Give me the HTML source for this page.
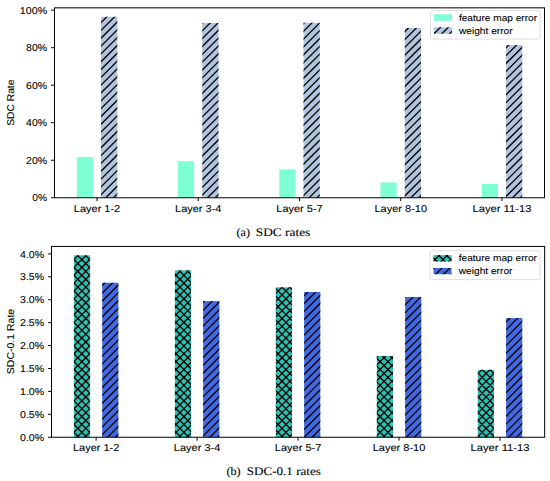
<!DOCTYPE html>
<html><head><meta charset="utf-8"><style>
html,body{margin:0;padding:0;background:#fff;}
body{width:550px;height:481px;overflow:hidden;}
svg{display:block;}
text{fill:#000;stroke:#000;stroke-width:0.09px;text-rendering:geometricPrecision;}
</style></head><body>
<svg width="550" height="481" viewBox="0 0 550 481">
<rect width="550" height="481" fill="#fff"/>
<rect x="76.77" y="157.05" width="16.20" height="40.70" fill="#7fffd4"/>
<rect x="101.07" y="16.84" width="16.20" height="180.91" fill="#b0c4de"/>
<clipPath id="c1"><rect x="101.07" y="16.84" width="16.20" height="180.91"/></clipPath>
<path clip-path="url(#c1)" d="M99.07,8.88L119.27,-11.32M99.07,16.70L119.27,-3.49M99.07,24.53L119.27,4.33M99.07,32.35L119.27,12.15M99.07,40.17L119.27,19.97M99.07,47.99L119.27,27.80M99.07,55.82L119.27,35.62M99.07,63.64L119.27,43.44M99.07,71.46L119.27,51.26M99.07,79.28L119.27,59.09M99.07,87.11L119.27,66.91M99.07,94.93L119.27,74.73M99.07,102.75L119.27,82.55M99.07,110.57L119.27,90.38M99.07,118.40L119.27,98.20M99.07,126.22L119.27,106.02M99.07,134.04L119.27,113.84M99.07,141.86L119.27,121.67M99.07,149.69L119.27,129.49M99.07,157.51L119.27,137.31M99.07,165.33L119.27,145.13M99.07,173.15L119.27,152.96M99.07,180.98L119.27,160.78M99.07,188.80L119.27,168.60M99.07,196.62L119.27,176.42M99.07,204.44L119.27,184.25M99.07,212.27L119.27,192.07M99.07,220.09L119.27,199.89M99.07,227.91L119.27,207.71" stroke="#000" stroke-width="1.3" fill="none"/>
<rect x="178.01" y="161.18" width="16.20" height="36.57" fill="#7fffd4"/>
<rect x="202.31" y="22.95" width="16.20" height="174.80" fill="#b0c4de"/>
<clipPath id="c2"><rect x="202.31" y="22.95" width="16.20" height="174.80"/></clipPath>
<path clip-path="url(#c2)" d="M200.31,9.34L220.51,-10.86M200.31,17.16L220.51,-3.04M200.31,24.98L220.51,4.78M200.31,32.80L220.51,12.60M200.31,40.63L220.51,20.43M200.31,48.45L220.51,28.25M200.31,56.27L220.51,36.07M200.31,64.09L220.51,43.89M200.31,71.92L220.51,51.72M200.31,79.74L220.51,59.54M200.31,87.56L220.51,67.36M200.31,95.38L220.51,75.18M200.31,103.21L220.51,83.01M200.31,111.03L220.51,90.83M200.31,118.85L220.51,98.65M200.31,126.67L220.51,106.47M200.31,134.50L220.51,114.30M200.31,142.32L220.51,122.12M200.31,150.14L220.51,129.94M200.31,157.96L220.51,137.76M200.31,165.79L220.51,145.59M200.31,173.61L220.51,153.41M200.31,181.43L220.51,161.23M200.31,189.25L220.51,169.05M200.31,197.08L220.51,176.88M200.31,204.90L220.51,184.70M200.31,212.72L220.51,192.52M200.31,220.54L220.51,200.34M200.31,228.37L220.51,208.17" stroke="#000" stroke-width="1.3" fill="none"/>
<rect x="279.25" y="169.43" width="16.20" height="28.32" fill="#7fffd4"/>
<rect x="303.55" y="22.77" width="16.20" height="174.98" fill="#b0c4de"/>
<clipPath id="c3"><rect x="303.55" y="22.77" width="16.20" height="174.98"/></clipPath>
<path clip-path="url(#c3)" d="M301.55,9.79L321.75,-10.41M301.55,17.61L321.75,-2.59M301.55,25.43L321.75,5.23M301.55,33.26L321.75,13.06M301.55,41.08L321.75,20.88M301.55,48.90L321.75,28.70M301.55,56.72L321.75,36.52M301.55,64.55L321.75,44.35M301.55,72.37L321.75,52.17M301.55,80.19L321.75,59.99M301.55,88.01L321.75,67.81M301.55,95.84L321.75,75.64M301.55,103.66L321.75,83.46M301.55,111.48L321.75,91.28M301.55,119.30L321.75,99.10M301.55,127.13L321.75,106.93M301.55,134.95L321.75,114.75M301.55,142.77L321.75,122.57M301.55,150.59L321.75,130.39M301.55,158.42L321.75,138.22M301.55,166.24L321.75,146.04M301.55,174.06L321.75,153.86M301.55,181.88L321.75,161.68M301.55,189.71L321.75,169.51M301.55,197.53L321.75,177.33M301.55,205.35L321.75,185.15M301.55,213.17L321.75,192.97M301.55,221.00L321.75,200.80M301.55,228.82L321.75,208.62" stroke="#000" stroke-width="1.3" fill="none"/>
<rect x="380.49" y="182.46" width="16.20" height="15.29" fill="#7fffd4"/>
<rect x="404.79" y="28.02" width="16.20" height="169.73" fill="#b0c4de"/>
<clipPath id="c4"><rect x="404.79" y="28.02" width="16.20" height="169.73"/></clipPath>
<path clip-path="url(#c4)" d="M402.79,18.06L422.99,-2.14M402.79,25.89L422.99,5.69M402.79,33.71L422.99,13.51M402.79,41.53L422.99,21.33M402.79,49.35L422.99,29.15M402.79,57.18L422.99,36.98M402.79,65.00L422.99,44.80M402.79,72.82L422.99,52.62M402.79,80.64L422.99,60.44M402.79,88.47L422.99,68.27M402.79,96.29L422.99,76.09M402.79,104.11L422.99,83.91M402.79,111.93L422.99,91.73M402.79,119.76L422.99,99.56M402.79,127.58L422.99,107.38M402.79,135.40L422.99,115.20M402.79,143.22L422.99,123.02M402.79,151.05L422.99,130.85M402.79,158.87L422.99,138.67M402.79,166.69L422.99,146.49M402.79,174.51L422.99,154.31M402.79,182.34L422.99,162.14M402.79,190.16L422.99,169.96M402.79,197.98L422.99,177.78M402.79,205.80L422.99,185.60M402.79,213.63L422.99,193.43M402.79,221.45L422.99,201.25M402.79,229.27L422.99,209.07" stroke="#000" stroke-width="1.3" fill="none"/>
<rect x="481.73" y="183.97" width="16.20" height="13.78" fill="#7fffd4"/>
<rect x="506.03" y="45.08" width="16.20" height="152.67" fill="#b0c4de"/>
<clipPath id="c5"><rect x="506.03" y="45.08" width="16.20" height="152.67"/></clipPath>
<path clip-path="url(#c5)" d="M504.03,34.16L524.23,13.96M504.03,41.98L524.23,21.79M504.03,49.81L524.23,29.61M504.03,57.63L524.23,37.43M504.03,65.45L524.23,45.25M504.03,73.27L524.23,53.08M504.03,81.10L524.23,60.90M504.03,88.92L524.23,68.72M504.03,96.74L524.23,76.54M504.03,104.56L524.23,84.37M504.03,112.39L524.23,92.19M504.03,120.21L524.23,100.01M504.03,128.03L524.23,107.83M504.03,135.85L524.23,115.66M504.03,143.68L524.23,123.48M504.03,151.50L524.23,131.30M504.03,159.32L524.23,139.12M504.03,167.14L524.23,146.95M504.03,174.97L524.23,154.77M504.03,182.79L524.23,162.59M504.03,190.61L524.23,170.41M504.03,198.43L524.23,178.24M504.03,206.26L524.23,186.06M504.03,214.08L524.23,193.88M504.03,221.90L524.23,201.70M504.03,229.72L524.23,209.53" stroke="#000" stroke-width="1.3" fill="none"/>
<rect x="54.5" y="7.85" width="490.0" height="189.9" fill="none" stroke="#000" stroke-width="1.0"/>
<line x1="51.10" y1="197.75" x2="54.5" y2="197.75" stroke="#000" stroke-width="1.0"/>
<text x="47.10" y="201.35" font-family="Liberation Sans" font-size="10.0" text-anchor="end" textLength="14.75" lengthAdjust="spacingAndGlyphs">0%</text>
<line x1="51.10" y1="160.24" x2="54.5" y2="160.24" stroke="#000" stroke-width="1.0"/>
<text x="47.10" y="163.84" font-family="Liberation Sans" font-size="10.0" text-anchor="end" textLength="20.98" lengthAdjust="spacingAndGlyphs">20%</text>
<line x1="51.10" y1="122.73" x2="54.5" y2="122.73" stroke="#000" stroke-width="1.0"/>
<text x="47.10" y="126.33" font-family="Liberation Sans" font-size="10.0" text-anchor="end" textLength="20.98" lengthAdjust="spacingAndGlyphs">40%</text>
<line x1="51.10" y1="85.22" x2="54.5" y2="85.22" stroke="#000" stroke-width="1.0"/>
<text x="47.10" y="88.82" font-family="Liberation Sans" font-size="10.0" text-anchor="end" textLength="20.98" lengthAdjust="spacingAndGlyphs">60%</text>
<line x1="51.10" y1="47.71" x2="54.5" y2="47.71" stroke="#000" stroke-width="1.0"/>
<text x="47.10" y="51.31" font-family="Liberation Sans" font-size="10.0" text-anchor="end" textLength="20.98" lengthAdjust="spacingAndGlyphs">80%</text>
<line x1="51.10" y1="10.20" x2="54.5" y2="10.20" stroke="#000" stroke-width="1.0"/>
<text x="47.10" y="13.80" font-family="Liberation Sans" font-size="10.0" text-anchor="end" textLength="27.22" lengthAdjust="spacingAndGlyphs">100%</text>
<line x1="97.02" y1="197.75" x2="97.02" y2="201.15" stroke="#000" stroke-width="1.0"/>
<text x="97.02" y="212.00" font-family="Liberation Sans" font-size="10.0" text-anchor="middle" textLength="46.44" lengthAdjust="spacingAndGlyphs">Layer 1-2</text>
<line x1="198.26" y1="197.75" x2="198.26" y2="201.15" stroke="#000" stroke-width="1.0"/>
<text x="198.26" y="212.00" font-family="Liberation Sans" font-size="10.0" text-anchor="middle" textLength="46.44" lengthAdjust="spacingAndGlyphs">Layer 3-4</text>
<line x1="299.50" y1="197.75" x2="299.50" y2="201.15" stroke="#000" stroke-width="1.0"/>
<text x="299.50" y="212.00" font-family="Liberation Sans" font-size="10.0" text-anchor="middle" textLength="46.44" lengthAdjust="spacingAndGlyphs">Layer 5-7</text>
<line x1="400.74" y1="197.75" x2="400.74" y2="201.15" stroke="#000" stroke-width="1.0"/>
<text x="400.74" y="212.00" font-family="Liberation Sans" font-size="10.0" text-anchor="middle" textLength="52.68" lengthAdjust="spacingAndGlyphs">Layer 8-10</text>
<line x1="501.98" y1="197.75" x2="501.98" y2="201.15" stroke="#000" stroke-width="1.0"/>
<text x="501.98" y="212.00" font-family="Liberation Sans" font-size="10.0" text-anchor="middle" textLength="58.92" lengthAdjust="spacingAndGlyphs">Layer 11-13</text>
<text x="14.00" y="102.70" font-family="Liberation Sans" font-size="10.0" text-anchor="middle" textLength="46.20" lengthAdjust="spacingAndGlyphs" transform="rotate(-90 14.00 102.70)">SDC Rate</text>
<rect x="430.5" y="10.65" width="109.6" height="28.45" rx="1.8" fill="#fff" fill-opacity="0.8" stroke="#dedede" stroke-width="1.0"/>
<rect x="433.90" y="14.30" width="18.10" height="6.50" fill="#7fffd4"/>
<rect x="433.90" y="27.30" width="18.10" height="6.50" fill="#b0c4de"/>
<clipPath id="c6"><rect x="433.90" y="27.30" width="18.10" height="6.50"/></clipPath>
<path clip-path="url(#c6)" d="M431.90,20.24L454.00,-1.86M431.90,28.06L454.00,5.96M431.90,35.89L454.00,13.79M431.90,43.71L454.00,21.61M431.90,51.53L454.00,29.43M431.90,59.36L454.00,37.25M431.90,67.18L454.00,45.08" stroke="#000" stroke-width="1.3" fill="none"/>
<text x="458.90" y="20.80" font-family="Liberation Sans" font-size="9.25" text-anchor="start" textLength="78.22" lengthAdjust="spacingAndGlyphs">feature map error</text>
<text x="458.90" y="33.70" font-family="Liberation Sans" font-size="9.25" text-anchor="start" textLength="53.77" lengthAdjust="spacingAndGlyphs">weight error</text>
<text x="236.6" y="235.5" font-family="Liberation Serif" font-size="11.5" textLength="13.4" lengthAdjust="spacingAndGlyphs">(a)</text>
<text x="255.8" y="235.5" font-family="Liberation Serif" font-size="11.5" textLength="54.5" lengthAdjust="spacingAndGlyphs">SDC rates</text>
<rect x="73.92" y="255.28" width="16.16" height="181.97" fill="#2bc2b2"/>
<clipPath id="c7"><rect x="73.92" y="255.28" width="16.16" height="181.97"/></clipPath>
<path clip-path="url(#c7)" d="M71.92,245.97L92.07,225.82M71.92,253.82L92.07,233.67M71.92,261.67L92.07,241.52M71.92,269.52L92.07,249.37M71.92,277.37L92.07,257.22M71.92,285.22L92.07,265.07M71.92,293.07L92.07,272.92M71.92,300.92L92.07,280.77M71.92,308.77L92.07,288.62M71.92,316.62L92.07,296.47M71.92,324.47L92.07,304.32M71.92,332.32L92.07,312.17M71.92,340.17L92.07,320.02M71.92,348.02L92.07,327.87M71.92,355.87L92.07,335.72M71.92,363.72L92.07,343.57M71.92,371.57L92.07,351.42M71.92,379.42L92.07,359.27M71.92,387.27L92.07,367.12M71.92,395.12L92.07,374.97M71.92,402.97L92.07,382.82M71.92,410.82L92.07,390.67M71.92,418.67L92.07,398.52M71.92,426.52L92.07,406.37M71.92,434.37L92.07,414.22M71.92,442.22L92.07,422.07M71.92,450.07L92.07,429.92M71.92,457.92L92.07,437.77M71.92,465.77L92.07,445.62M71.92,445.95L92.07,466.10M71.92,438.10L92.07,458.25M71.92,430.25L92.07,450.40M71.92,422.40L92.07,442.55M71.92,414.55L92.07,434.70M71.92,406.70L92.07,426.85M71.92,398.85L92.07,419.00M71.92,391.00L92.07,411.15M71.92,383.15L92.07,403.30M71.92,375.30L92.07,395.45M71.92,367.45L92.07,387.60M71.92,359.60L92.07,379.75M71.92,351.75L92.07,371.90M71.92,343.90L92.07,364.05M71.92,336.05L92.07,356.20M71.92,328.20L92.07,348.35M71.92,320.35L92.07,340.50M71.92,312.50L92.07,332.65M71.92,304.65L92.07,324.80M71.92,296.80L92.07,316.95M71.92,288.95L92.07,309.10M71.92,281.10L92.07,301.25M71.92,273.25L92.07,293.40M71.92,265.40L92.07,285.55M71.92,257.55L92.07,277.70M71.92,249.70L92.07,269.85M71.92,241.85L92.07,262.00M71.92,234.00L92.07,254.15M71.92,226.15L92.07,246.30" stroke="#000" stroke-width="1.3" fill="none"/>
<rect x="102.19" y="282.78" width="16.16" height="154.47" fill="#4169e1"/>
<clipPath id="c8"><rect x="102.19" y="282.78" width="16.16" height="154.47"/></clipPath>
<path clip-path="url(#c8)" d="M100.19,271.60L120.34,251.44M100.19,279.46L120.34,259.31M100.19,287.33L120.34,267.17M100.19,295.19L120.34,275.04M100.19,303.06L120.34,282.90M100.19,310.92L120.34,290.77M100.19,318.79L120.34,298.63M100.19,326.65L120.34,306.50M100.19,334.52L120.34,314.36M100.19,342.38L120.34,322.23M100.19,350.25L120.34,330.09M100.19,358.11L120.34,337.96M100.19,365.98L120.34,345.82M100.19,373.84L120.34,353.69M100.19,381.71L120.34,361.55M100.19,389.57L120.34,369.42M100.19,397.44L120.34,377.28M100.19,405.30L120.34,385.15M100.19,413.17L120.34,393.01M100.19,421.03L120.34,400.88M100.19,428.90L120.34,408.74M100.19,436.76L120.34,416.61M100.19,444.63L120.34,424.47M100.19,452.49L120.34,432.34M100.19,460.36L120.34,440.20M100.19,468.22L120.34,448.07" stroke="#000" stroke-width="1.3" fill="none"/>
<rect x="174.89" y="270.40" width="16.16" height="166.85" fill="#2bc2b2"/>
<clipPath id="c9"><rect x="174.89" y="270.40" width="16.16" height="166.85"/></clipPath>
<path clip-path="url(#c9)" d="M172.89,262.75L193.04,242.60M172.89,270.60L193.04,250.45M172.89,278.45L193.04,258.30M172.89,286.30L193.04,266.15M172.89,294.15L193.04,274.00M172.89,302.00L193.04,281.85M172.89,309.85L193.04,289.70M172.89,317.70L193.04,297.55M172.89,325.55L193.04,305.40M172.89,333.40L193.04,313.25M172.89,341.25L193.04,321.10M172.89,349.10L193.04,328.95M172.89,356.95L193.04,336.80M172.89,364.80L193.04,344.65M172.89,372.65L193.04,352.50M172.89,380.50L193.04,360.35M172.89,388.35L193.04,368.20M172.89,396.20L193.04,376.05M172.89,404.05L193.04,383.90M172.89,411.90L193.04,391.75M172.89,419.75L193.04,399.60M172.89,427.60L193.04,407.45M172.89,435.45L193.04,415.30M172.89,443.30L193.04,423.15M172.89,451.15L193.04,431.00M172.89,459.00L193.04,438.85M172.89,466.85L193.04,446.70M172.89,444.87L193.04,465.02M172.89,437.02L193.04,457.17M172.89,429.17L193.04,449.32M172.89,421.32L193.04,441.47M172.89,413.47L193.04,433.62M172.89,405.62L193.04,425.77M172.89,397.77L193.04,417.92M172.89,389.92L193.04,410.07M172.89,382.07L193.04,402.22M172.89,374.22L193.04,394.37M172.89,366.37L193.04,386.52M172.89,358.52L193.04,378.67M172.89,350.67L193.04,370.82M172.89,342.82L193.04,362.97M172.89,334.97L193.04,355.12M172.89,327.12L193.04,347.27M172.89,319.27L193.04,339.42M172.89,311.42L193.04,331.57M172.89,303.57L193.04,323.72M172.89,295.72L193.04,315.87M172.89,287.87L193.04,308.02M172.89,280.02L193.04,300.17M172.89,272.17L193.04,292.32M172.89,264.32L193.04,284.47M172.89,256.47L193.04,276.62M172.89,248.62L193.04,268.77M172.89,240.77L193.04,260.92" stroke="#000" stroke-width="1.3" fill="none"/>
<rect x="203.16" y="301.11" width="16.16" height="136.14" fill="#4169e1"/>
<clipPath id="c10"><rect x="203.16" y="301.11" width="16.16" height="136.14"/></clipPath>
<path clip-path="url(#c10)" d="M201.16,288.60L221.32,268.44M201.16,296.46L221.32,276.31M201.16,304.33L221.32,284.17M201.16,312.19L221.32,292.04M201.16,320.06L221.32,299.90M201.16,327.92L221.32,307.77M201.16,335.79L221.32,315.63M201.16,343.65L221.32,323.50M201.16,351.52L221.32,331.36M201.16,359.38L221.32,339.23M201.16,367.25L221.32,347.09M201.16,375.11L221.32,354.96M201.16,382.98L221.32,362.82M201.16,390.84L221.32,370.69M201.16,398.71L221.32,378.55M201.16,406.57L221.32,386.42M201.16,414.44L221.32,394.28M201.16,422.30L221.32,402.15M201.16,430.17L221.32,410.01M201.16,438.03L221.32,417.88M201.16,445.90L221.32,425.74M201.16,453.76L221.32,433.61M201.16,461.63L221.32,441.47M201.16,469.49L221.32,449.34" stroke="#000" stroke-width="1.3" fill="none"/>
<rect x="275.86" y="287.36" width="16.16" height="149.89" fill="#2bc2b2"/>
<clipPath id="c11"><rect x="275.86" y="287.36" width="16.16" height="149.89"/></clipPath>
<path clip-path="url(#c11)" d="M273.86,279.53L294.02,259.37M273.86,287.38L294.02,267.22M273.86,295.23L294.02,275.07M273.86,303.08L294.02,282.92M273.86,310.93L294.02,290.77M273.86,318.78L294.02,298.62M273.86,326.63L294.02,306.47M273.86,334.48L294.02,314.32M273.86,342.33L294.02,322.17M273.86,350.18L294.02,330.02M273.86,358.03L294.02,337.87M273.86,365.88L294.02,345.72M273.86,373.73L294.02,353.57M273.86,381.58L294.02,361.42M273.86,389.43L294.02,369.27M273.86,397.28L294.02,377.12M273.86,405.13L294.02,384.97M273.86,412.98L294.02,392.82M273.86,420.83L294.02,400.67M273.86,428.68L294.02,408.52M273.86,436.53L294.02,416.37M273.86,444.38L294.02,424.22M273.86,452.23L294.02,432.07M273.86,460.08L294.02,439.92M273.86,467.93L294.02,447.77M273.86,443.79L294.02,463.95M273.86,435.94L294.02,456.10M273.86,428.09L294.02,448.25M273.86,420.24L294.02,440.40M273.86,412.39L294.02,432.55M273.86,404.54L294.02,424.70M273.86,396.69L294.02,416.85M273.86,388.84L294.02,409.00M273.86,380.99L294.02,401.15M273.86,373.14L294.02,393.30M273.86,365.29L294.02,385.45M273.86,357.44L294.02,377.60M273.86,349.59L294.02,369.75M273.86,341.74L294.02,361.90M273.86,333.89L294.02,354.05M273.86,326.04L294.02,346.20M273.86,318.19L294.02,338.35M273.86,310.34L294.02,330.50M273.86,302.49L294.02,322.65M273.86,294.64L294.02,314.80M273.86,286.79L294.02,306.95M273.86,278.94L294.02,299.10M273.86,271.09L294.02,291.25M273.86,263.24L294.02,283.40M273.86,255.39L294.02,275.55" stroke="#000" stroke-width="1.3" fill="none"/>
<rect x="304.13" y="291.95" width="16.16" height="145.30" fill="#4169e1"/>
<clipPath id="c12"><rect x="304.13" y="291.95" width="16.16" height="145.30"/></clipPath>
<path clip-path="url(#c12)" d="M302.13,282.01L322.29,261.85M302.13,289.87L322.29,269.72M302.13,297.74L322.29,277.58M302.13,305.60L322.29,285.45M302.13,313.47L322.29,293.31M302.13,321.33L322.29,301.18M302.13,329.20L322.29,309.04M302.13,337.06L322.29,316.91M302.13,344.93L322.29,324.77M302.13,352.79L322.29,332.64M302.13,360.66L322.29,340.50M302.13,368.52L322.29,348.37M302.13,376.39L322.29,356.23M302.13,384.25L322.29,364.10M302.13,392.12L322.29,371.96M302.13,399.98L322.29,379.83M302.13,407.85L322.29,387.69M302.13,415.71L322.29,395.56M302.13,423.58L322.29,403.42M302.13,431.44L322.29,411.29M302.13,439.31L322.29,419.15M302.13,447.17L322.29,427.02M302.13,455.04L322.29,434.88M302.13,462.90L322.29,442.75M302.13,470.77L322.29,450.61" stroke="#000" stroke-width="1.3" fill="none"/>
<rect x="376.83" y="356.12" width="16.16" height="81.13" fill="#2bc2b2"/>
<clipPath id="c13"><rect x="376.83" y="356.12" width="16.16" height="81.13"/></clipPath>
<path clip-path="url(#c13)" d="M374.83,343.41L394.99,323.25M374.83,351.26L394.99,331.10M374.83,359.11L394.99,338.95M374.83,366.96L394.99,346.80M374.83,374.81L394.99,354.65M374.83,382.66L394.99,362.50M374.83,390.51L394.99,370.35M374.83,398.36L394.99,378.20M374.83,406.21L394.99,386.05M374.83,414.06L394.99,393.90M374.83,421.91L394.99,401.75M374.83,429.76L394.99,409.60M374.83,437.61L394.99,417.45M374.83,445.46L394.99,425.30M374.83,453.31L394.99,433.15M374.83,461.16L394.99,441.00M374.83,469.01L394.99,448.85M374.83,450.56L394.99,470.72M374.83,442.71L394.99,462.87M374.83,434.86L394.99,455.02M374.83,427.01L394.99,447.17M374.83,419.16L394.99,439.32M374.83,411.31L394.99,431.47M374.83,403.46L394.99,423.62M374.83,395.61L394.99,415.77M374.83,387.76L394.99,407.92M374.83,379.91L394.99,400.07M374.83,372.06L394.99,392.22M374.83,364.21L394.99,384.37M374.83,356.36L394.99,376.52M374.83,348.51L394.99,368.67M374.83,340.66L394.99,360.82M374.83,332.81L394.99,352.97M374.83,324.96L394.99,345.12" stroke="#000" stroke-width="1.3" fill="none"/>
<rect x="405.11" y="296.99" width="16.16" height="140.26" fill="#4169e1"/>
<clipPath id="c14"><rect x="405.11" y="296.99" width="16.16" height="140.26"/></clipPath>
<path clip-path="url(#c14)" d="M403.11,283.28L423.26,263.12M403.11,291.14L423.26,270.99M403.11,299.01L423.26,278.85M403.11,306.87L423.26,286.72M403.11,314.74L423.26,294.58M403.11,322.60L423.26,302.45M403.11,330.47L423.26,310.31M403.11,338.33L423.26,318.18M403.11,346.20L423.26,326.04M403.11,354.06L423.26,333.91M403.11,361.93L423.26,341.77M403.11,369.79L423.26,349.64M403.11,377.66L423.26,357.50M403.11,385.52L423.26,365.37M403.11,393.39L423.26,373.23M403.11,401.25L423.26,381.10M403.11,409.12L423.26,388.96M403.11,416.98L423.26,396.83M403.11,424.85L423.26,404.69M403.11,432.71L423.26,412.56M403.11,440.58L423.26,420.42M403.11,448.44L423.26,428.29M403.11,456.31L423.26,436.15M403.11,464.17L423.26,444.02" stroke="#000" stroke-width="1.3" fill="none"/>
<rect x="477.81" y="369.87" width="16.16" height="67.38" fill="#2bc2b2"/>
<clipPath id="c15"><rect x="477.81" y="369.87" width="16.16" height="67.38"/></clipPath>
<path clip-path="url(#c15)" d="M475.81,360.18L495.96,340.03M475.81,368.03L495.96,347.88M475.81,375.88L495.96,355.73M475.81,383.73L495.96,363.58M475.81,391.58L495.96,371.43M475.81,399.43L495.96,379.28M475.81,407.28L495.96,387.13M475.81,415.13L495.96,394.98M475.81,422.98L495.96,402.83M475.81,430.83L495.96,410.68M475.81,438.68L495.96,418.53M475.81,446.53L495.96,426.38M475.81,454.38L495.96,434.23M475.81,462.23L495.96,442.08M475.81,470.08L495.96,449.93M475.81,449.49L495.96,469.64M475.81,441.64L495.96,461.79M475.81,433.79L495.96,453.94M475.81,425.94L495.96,446.09M475.81,418.09L495.96,438.24M475.81,410.24L495.96,430.39M475.81,402.39L495.96,422.54M475.81,394.54L495.96,414.69M475.81,386.69L495.96,406.84M475.81,378.84L495.96,398.99M475.81,370.99L495.96,391.14M475.81,363.14L495.96,383.29M475.81,355.29L495.96,375.44M475.81,347.44L495.96,367.59M475.81,339.59L495.96,359.74" stroke="#000" stroke-width="1.3" fill="none"/>
<rect x="506.08" y="318.07" width="16.16" height="119.18" fill="#4169e1"/>
<clipPath id="c16"><rect x="506.08" y="318.07" width="16.16" height="119.18"/></clipPath>
<path clip-path="url(#c16)" d="M504.08,308.15L524.23,287.99M504.08,316.01L524.23,295.86M504.08,323.88L524.23,303.72M504.08,331.74L524.23,311.59M504.08,339.61L524.23,319.45M504.08,347.47L524.23,327.32M504.08,355.34L524.23,335.18M504.08,363.20L524.23,343.05M504.08,371.07L524.23,350.91M504.08,378.93L524.23,358.78M504.08,386.80L524.23,366.64M504.08,394.66L524.23,374.51M504.08,402.53L524.23,382.37M504.08,410.39L524.23,390.24M504.08,418.26L524.23,398.10M504.08,426.12L524.23,405.97M504.08,433.99L524.23,413.83M504.08,441.85L524.23,421.70M504.08,449.72L524.23,429.56M504.08,457.58L524.23,437.43M504.08,465.45L524.23,445.29" stroke="#000" stroke-width="1.3" fill="none"/>
<rect x="51.5" y="246.45" width="493.15" height="190.8" fill="none" stroke="#000" stroke-width="1.0"/>
<line x1="48.10" y1="437.25" x2="51.5" y2="437.25" stroke="#000" stroke-width="1.0"/>
<text x="44.10" y="440.85" font-family="Liberation Sans" font-size="10.0" text-anchor="end" textLength="24.10" lengthAdjust="spacingAndGlyphs">0.0%</text>
<line x1="48.10" y1="414.33" x2="51.5" y2="414.33" stroke="#000" stroke-width="1.0"/>
<text x="44.10" y="417.93" font-family="Liberation Sans" font-size="10.0" text-anchor="end" textLength="24.10" lengthAdjust="spacingAndGlyphs">0.5%</text>
<line x1="48.10" y1="391.41" x2="51.5" y2="391.41" stroke="#000" stroke-width="1.0"/>
<text x="44.10" y="395.01" font-family="Liberation Sans" font-size="10.0" text-anchor="end" textLength="24.10" lengthAdjust="spacingAndGlyphs">1.0%</text>
<line x1="48.10" y1="368.49" x2="51.5" y2="368.49" stroke="#000" stroke-width="1.0"/>
<text x="44.10" y="372.09" font-family="Liberation Sans" font-size="10.0" text-anchor="end" textLength="24.10" lengthAdjust="spacingAndGlyphs">1.5%</text>
<line x1="48.10" y1="345.57" x2="51.5" y2="345.57" stroke="#000" stroke-width="1.0"/>
<text x="44.10" y="349.18" font-family="Liberation Sans" font-size="10.0" text-anchor="end" textLength="24.10" lengthAdjust="spacingAndGlyphs">2.0%</text>
<line x1="48.10" y1="322.66" x2="51.5" y2="322.66" stroke="#000" stroke-width="1.0"/>
<text x="44.10" y="326.26" font-family="Liberation Sans" font-size="10.0" text-anchor="end" textLength="24.10" lengthAdjust="spacingAndGlyphs">2.5%</text>
<line x1="48.10" y1="299.74" x2="51.5" y2="299.74" stroke="#000" stroke-width="1.0"/>
<text x="44.10" y="303.34" font-family="Liberation Sans" font-size="10.0" text-anchor="end" textLength="24.10" lengthAdjust="spacingAndGlyphs">3.0%</text>
<line x1="48.10" y1="276.82" x2="51.5" y2="276.82" stroke="#000" stroke-width="1.0"/>
<text x="44.10" y="280.42" font-family="Liberation Sans" font-size="10.0" text-anchor="end" textLength="24.10" lengthAdjust="spacingAndGlyphs">3.5%</text>
<line x1="48.10" y1="253.90" x2="51.5" y2="253.90" stroke="#000" stroke-width="1.0"/>
<text x="44.10" y="257.50" font-family="Liberation Sans" font-size="10.0" text-anchor="end" textLength="24.10" lengthAdjust="spacingAndGlyphs">4.0%</text>
<line x1="96.13" y1="437.25" x2="96.13" y2="440.65" stroke="#000" stroke-width="1.0"/>
<text x="96.13" y="451.40" font-family="Liberation Sans" font-size="10.0" text-anchor="middle" textLength="46.44" lengthAdjust="spacingAndGlyphs">Layer 1-2</text>
<line x1="197.10" y1="437.25" x2="197.10" y2="440.65" stroke="#000" stroke-width="1.0"/>
<text x="197.10" y="451.40" font-family="Liberation Sans" font-size="10.0" text-anchor="middle" textLength="46.44" lengthAdjust="spacingAndGlyphs">Layer 3-4</text>
<line x1="298.07" y1="437.25" x2="298.07" y2="440.65" stroke="#000" stroke-width="1.0"/>
<text x="298.07" y="451.40" font-family="Liberation Sans" font-size="10.0" text-anchor="middle" textLength="46.44" lengthAdjust="spacingAndGlyphs">Layer 5-7</text>
<line x1="399.05" y1="437.25" x2="399.05" y2="440.65" stroke="#000" stroke-width="1.0"/>
<text x="399.05" y="451.40" font-family="Liberation Sans" font-size="10.0" text-anchor="middle" textLength="52.68" lengthAdjust="spacingAndGlyphs">Layer 8-10</text>
<line x1="500.02" y1="437.25" x2="500.02" y2="440.65" stroke="#000" stroke-width="1.0"/>
<text x="500.02" y="451.40" font-family="Liberation Sans" font-size="10.0" text-anchor="middle" textLength="58.92" lengthAdjust="spacingAndGlyphs">Layer 11-13</text>
<text x="14.00" y="341.50" font-family="Liberation Sans" font-size="10.0" text-anchor="middle" textLength="65.32" lengthAdjust="spacingAndGlyphs" transform="rotate(-90 14.00 341.50)">SDC-0.1 Rate</text>
<rect x="430.0" y="250.75" width="110.0" height="28.9" rx="1.8" fill="#fff" fill-opacity="0.8" stroke="#dedede" stroke-width="1.0"/>
<rect x="433.50" y="255.10" width="18.00" height="6.30" fill="#2bc2b2"/>
<clipPath id="c17"><rect x="433.50" y="255.10" width="18.00" height="6.30"/></clipPath>
<path clip-path="url(#c17)" d="M431.50,247.49L453.50,225.49M431.50,255.34L453.50,233.34M431.50,263.19L453.50,241.19M431.50,271.04L453.50,249.04M431.50,278.89L453.50,256.89M431.50,286.74L453.50,264.74M431.50,294.59L453.50,272.59M431.50,271.73L453.50,293.73M431.50,263.88L453.50,285.88M431.50,256.03L453.50,278.03M431.50,248.18L453.50,270.18M431.50,240.33L453.50,262.33M431.50,232.48L453.50,254.48M431.50,224.63L453.50,246.63" stroke="#000" stroke-width="1.3" fill="none"/>
<rect x="433.50" y="268.00" width="18.00" height="6.20" fill="#4169e1"/>
<clipPath id="c18"><rect x="433.50" y="268.00" width="18.00" height="6.20"/></clipPath>
<path clip-path="url(#c18)" d="M431.50,254.88L453.50,232.88M431.50,262.75L453.50,240.75M431.50,270.62L453.50,248.62M431.50,278.48L453.50,256.48M431.50,286.35L453.50,264.35M431.50,294.21L453.50,272.21M431.50,302.08L453.50,280.08" stroke="#000" stroke-width="1.3" fill="none"/>
<text x="458.70" y="260.90" font-family="Liberation Sans" font-size="9.25" text-anchor="start" textLength="78.22" lengthAdjust="spacingAndGlyphs">feature map error</text>
<text x="458.70" y="273.80" font-family="Liberation Sans" font-size="9.25" text-anchor="start" textLength="53.77" lengthAdjust="spacingAndGlyphs">weight error</text>
<text x="226.4" y="474.5" font-family="Liberation Serif" font-size="11.5" textLength="14.2" lengthAdjust="spacingAndGlyphs">(b)</text>
<text x="246.8" y="474.5" font-family="Liberation Serif" font-size="11.5" textLength="74.0" lengthAdjust="spacingAndGlyphs">SDC-0.1 rates</text>
</svg>
</body></html>
